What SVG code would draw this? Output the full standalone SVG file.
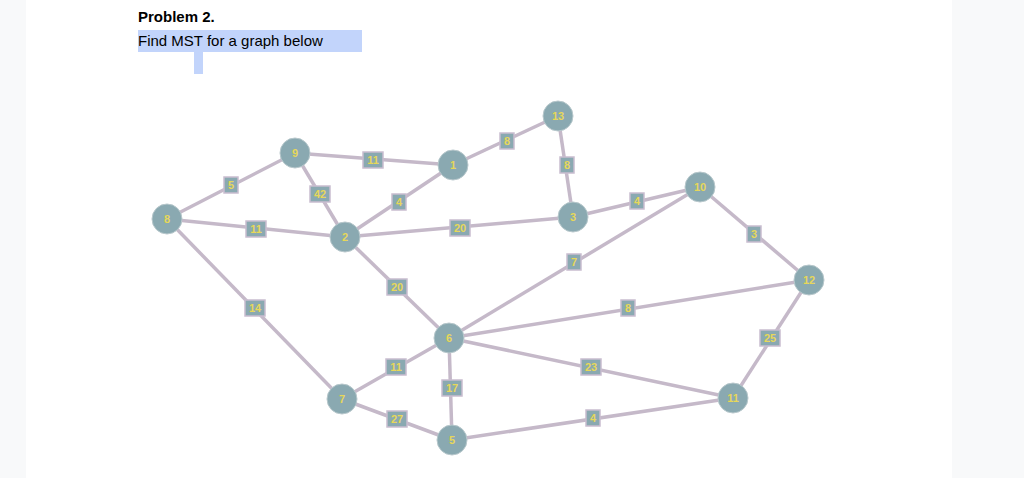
<svg xmlns="http://www.w3.org/2000/svg" width="1024" height="478" viewBox="0 0 1024 478">
<style>
.e{stroke:#c5b9c9;stroke-width:3.5;fill:none}
.n circle{fill:#8aa9b1;stroke:#b8c8cc;stroke-width:1}
.n text,.l text{font-family:"Liberation Sans",Arial,sans-serif;font-weight:bold;fill:#e6d75a;text-anchor:middle}
.n text{font-size:11px}
.l rect{fill:#8aa9b1;stroke:#c9bdd0;stroke-width:1.5}
.l text{font-size:11px}
.h{font-family:"Liberation Sans",Arial,sans-serif;font-size:15px;fill:#000}
</style>
<rect width="1024" height="478" fill="#f8f9fa"/>
<rect x="26" y="0" width="926" height="478" fill="#fff"/>
<rect x="138" y="30" width="224" height="22" fill="#c2d4fb"/>
<rect x="194" y="52" width="9" height="22" fill="#c2d4fb"/>
<text class="h" x="138" y="22" font-weight="bold">Problem 2.</text>
<text class="h" x="138" y="46">Find MST for a graph below</text>
<g id="edges">
<line class="e" x1="167" y1="219" x2="295" y2="153"/>
<line class="e" x1="295" y1="153" x2="453" y2="165"/>
<line class="e" x1="453" y1="165" x2="558" y2="116"/>
<line class="e" x1="558" y1="116" x2="573" y2="217"/>
<line class="e" x1="295" y1="153" x2="345" y2="237"/>
<line class="e" x1="453" y1="165" x2="345" y2="237"/>
<line class="e" x1="167" y1="219" x2="345" y2="237"/>
<line class="e" x1="345" y1="237" x2="573" y2="217"/>
<line class="e" x1="573" y1="217" x2="700" y2="187"/>
<line class="e" x1="700" y1="187" x2="809" y2="280"/>
<line class="e" x1="345" y1="237" x2="449" y2="338"/>
<line class="e" x1="700" y1="187" x2="449" y2="338"/>
<line class="e" x1="449" y1="338" x2="809" y2="280"/>
<line class="e" x1="809" y1="280" x2="733" y2="398"/>
<line class="e" x1="167" y1="219" x2="342" y2="399"/>
<line class="e" x1="449" y1="338" x2="342" y2="399"/>
<line class="e" x1="449" y1="338" x2="452" y2="440"/>
<line class="e" x1="449" y1="338" x2="733" y2="398"/>
<line class="e" x1="342" y1="399" x2="452" y2="440"/>
<line class="e" x1="452" y1="440" x2="733" y2="398"/>
</g>
<g id="labels" class="l">
<g><rect x="224" y="177" width="14" height="16"/><text x="231" y="189">5</text></g>
<g><rect x="363" y="152" width="20" height="16"/><text x="373" y="164">11</text></g>
<g><rect x="500" y="133" width="14" height="16"/><text x="507" y="145">8</text></g>
<g><rect x="560" y="157" width="14" height="16"/><text x="567" y="169">8</text></g>
<g><rect x="310" y="186" width="20" height="16"/><text x="320" y="198">42</text></g>
<g><rect x="392" y="194" width="14" height="16"/><text x="399" y="206">4</text></g>
<g><rect x="246" y="221" width="20" height="16"/><text x="256" y="233">11</text></g>
<g><rect x="450" y="220" width="20" height="16"/><text x="460" y="232">20</text></g>
<g><rect x="630" y="193" width="14" height="16"/><text x="637" y="205">4</text></g>
<g><rect x="747" y="226" width="14" height="16"/><text x="754" y="238">3</text></g>
<g><rect x="387" y="279" width="20" height="16"/><text x="397" y="291">20</text></g>
<g><rect x="567" y="254" width="14" height="16"/><text x="574" y="266">7</text></g>
<g><rect x="621" y="300" width="14" height="16"/><text x="628" y="312">8</text></g>
<g><rect x="760" y="330" width="20" height="16"/><text x="770" y="342">25</text></g>
<g><rect x="245" y="300" width="20" height="16"/><text x="255" y="312">14</text></g>
<g><rect x="386" y="359" width="20" height="16"/><text x="396" y="371">11</text></g>
<g><rect x="442" y="380" width="20" height="16"/><text x="452" y="392">17</text></g>
<g><rect x="581" y="359" width="20" height="16"/><text x="591" y="371">23</text></g>
<g><rect x="387" y="411" width="20" height="16"/><text x="397" y="423">27</text></g>
<g><rect x="586" y="410" width="14" height="16"/><text x="593" y="422">4</text></g>
</g>
<g id="n8" class="n"><circle cx="167" cy="219" r="15"/><text x="167" y="223">8</text></g>
<g id="n9" class="n"><circle cx="295" cy="153" r="15"/><text x="295" y="157">9</text></g>
<g id="n1" class="n"><circle cx="453" cy="165" r="15"/><text x="453" y="169">1</text></g>
<g id="n13" class="n"><circle cx="558" cy="116" r="15"/><text x="558" y="120">13</text></g>
<g id="n2" class="n"><circle cx="345" cy="237" r="15"/><text x="345" y="241">2</text></g>
<g id="n3" class="n"><circle cx="573" cy="217" r="15"/><text x="573" y="221">3</text></g>
<g id="n10" class="n"><circle cx="700" cy="187" r="15"/><text x="700" y="191">10</text></g>
<g id="n12" class="n"><circle cx="809" cy="280" r="15"/><text x="809" y="284">12</text></g>
<g id="n6" class="n"><circle cx="449" cy="338" r="15"/><text x="449" y="342">6</text></g>
<g id="n7" class="n"><circle cx="342" cy="399" r="15"/><text x="342" y="403">7</text></g>
<g id="n5" class="n"><circle cx="452" cy="440" r="15"/><text x="452" y="444">5</text></g>
<g id="n11" class="n"><circle cx="733" cy="398" r="15"/><text x="733" y="402">11</text></g>
</svg>
